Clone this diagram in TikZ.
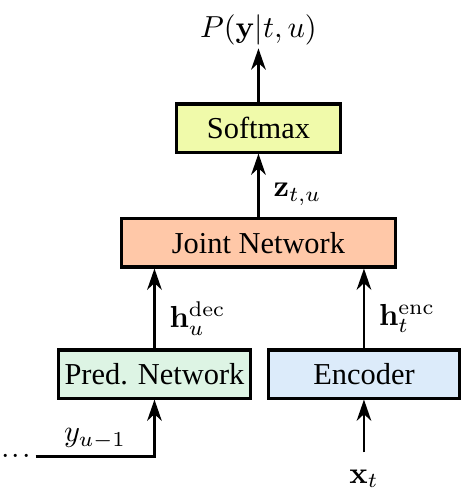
\documentclass[tikz,border=0pt]{standalone}
\usepackage{amsmath,amssymb}
\usepackage[no-math]{fontspec}
\setmainfont{Liberation Serif}
\usepackage{xcolor}
\usepackage{tikz}
\usetikzlibrary{arrows.meta, positioning}

\definecolor{softmaxfill}{RGB}{240,250,170}
\definecolor{jointfill}{RGB}{255,200,168}
\definecolor{predfill}{RGB}{221,244,228}
\definecolor{encfill}{RGB}{220,235,250}

\begin{document}
\begin{tikzpicture}[
  node distance=26.3pt,
  block/.style={
    rectangle, draw, line width=1pt,
    minimum height=15.8pt, inner sep=2pt
  },
  line/.style={draw, line width=0.9pt, -{Stealth[length=7pt, width=4.8pt, inset=2.2pt]}},
  lbl/.style={inner sep=4.5pt}
]

  \useasboundingbox (-85pt,-81.9pt) rectangle (70.9pt,79.9pt);

  \node [block, fill=jointfill, minimum width=90pt] (joint) {Joint Network};
  \node [block, fill=softmaxfill, minimum width=54pt, above=21pt of joint] (softmax) {Softmax};
  \node [inner sep=1pt, above=17.8pt of softmax] (prob) {$P(\mathbf{y}|t,u)$};
  \node [block, fill=predfill, minimum width=63pt, below=26.3pt of joint, xshift=-34.2pt] (pred) {Pred. Network};
  \node [block, fill=encfill, minimum width=63pt, below=26.3pt of joint, xshift=34.7pt] (enc) {Encoder};
  \node [inner sep=5.5pt, below=17.4pt of enc] (xt) {$\mathbf{x}_t$};
  \coordinate [below=18.7pt of pred.south] (turn);
  \coordinate [left=39.1pt of turn] (start);
  \node [inner sep=0pt, anchor=mid east] (dots) at ([xshift=-1.3pt]start) {${\cdot}\mkern1.3mu{\cdot}\mkern1.3mu{\cdot}$};

  \path [line] (softmax) -- (prob);
  \path [line] (joint) -- node[lbl, right, pos=0.36]{$\mathbf{z}_{t,u}$} (softmax);
  \path [line] (pred) -- node[lbl, right, pos=0.375]{$\mathbf{h}_u^{\mathrm{dec}}$} (pred |- joint.south);
  \path [line] (enc) -- node[lbl, right, pos=0.375]{$\mathbf{h}_t^{\mathrm{enc}}$} (enc |- joint.south);
  \path [line] (xt) -- (enc);
  \path [line] (start) -- node[above, inner sep=2pt]{$y_{u-1}$} (turn) -- (pred);

\end{tikzpicture}
\end{document}
